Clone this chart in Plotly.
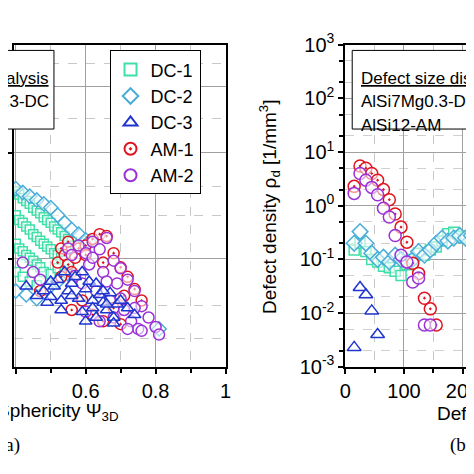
import plotly.graph_objects as go

# Left panel: sphericity vs. (arbitrary, unlabelled) y
dc1_x = [0.40,0.41,0.42,0.43,0.44,0.45,0.46,0.47,0.48,0.49,0.50,0.51,0.52,0.53,0.54,0.55,0.56,0.57,
         0.40,0.41,0.42,0.43,0.44,0.45,0.46,0.47,0.48,0.49,0.50,0.51,0.52,0.53,0.54,0.55,
         0.40,0.41,0.42,0.43,0.44,0.45,0.46,0.47,0.48,0.50,0.52,0.54,0.40,0.42,0.44,0.46]
dc1_y = [185,182,178,175,172,168,165,162,158,155,152,148,145,142,138,135,132,128,
         160,155,152,148,145,140,137,133,130,127,124,120,118,115,112,108,
         130,125,122,118,115,112,108,105,100,98,104,100,100,95,90,86]
dc2_x = [0.40,0.42,0.44,0.46,0.48,0.50,0.52,0.54,0.56,0.58,0.60,0.61,0.40,0.43,0.46,0.49,0.52,0.55,0.81]
dc2_y = [188,184,180,176,172,168,160,152,145,140,134,132,80,76,72,82,90,98,40]
dc3_x = [0.43,0.46,0.48,0.49,0.50,0.51,0.52,0.53,0.54,0.55,0.56,0.57,0.58,0.59,0.60,0.61,0.62,0.63,0.64,0.65,
         0.66,0.67,0.68,0.69,0.70,0.72,0.74,0.50,0.53,0.56,0.59,0.62,0.65,0.68,0.60,0.63,0.66]
dc3_y = [85,75,80,68,74,85,92,70,100,80,88,95,72,100,82,90,70,88,76,68,
         60,78,52,66,70,62,55,90,60,75,58,62,80,46,48,52,66]
am1_x = [0.47,0.52,0.53,0.54,0.55,0.56,0.57,0.58,0.60,0.62,0.64,0.66,0.68,0.70,0.72,0.74,0.76,
         0.53,0.56,0.59,0.62,0.65,0.68,0.71,0.55,0.60,0.65,0.70]
am1_y = [80,110,125,118,108,100,115,125,128,135,140,138,120,105,95,82,70,
         95,60,70,55,48,62,75,132,118,110,45]
am2_x = [0.42,0.45,0.47,0.55,0.56,0.58,0.60,0.62,0.64,0.66,0.68,0.70,0.72,0.74,0.76,0.78,0.80,0.81,
         0.57,0.59,0.61,0.63,0.65,0.67,0.69,0.71,0.73,0.75,0.60,0.64,0.68,0.72,0.76,0.62,0.66,0.70,0.74]
am2_y = [110,100,92,125,118,128,120,132,124,136,112,104,92,80,64,52,42,34,
         96,88,108,80,100,70,88,60,48,40,58,48,52,40,38,115,90,72,62]

# Right panel: defect density vs defect size
r_am1_x = [15,25,35,45,55,65,75,85,95,105,115,125,135,145,155]
r_am1_y = [2.3,5.5,5.0,4.0,3.0,2.0,1.3,0.7,0.4,0.21,0.085,0.055,0.019,0.012,0.006]
r_am2_x = [15,25,35,45,55,65,75,85,95,105,115,125,135,145]
r_am2_y = [1.7,4.0,3.0,2.2,1.6,0.9,0.62,0.28,0.12,0.09,0.038,0.045,0.006,0.006]
r_dc1_x = [15,25,35,45,55,65,75,85,95,105,115,125,135,145,155,165,175,185,195,205,215]
r_dc1_y = [0.15,0.2,0.14,0.1,0.09,0.075,0.07,0.06,0.05,0.08,0.1,0.13,0.12,0.15,0.17,0.22,0.3,0.32,0.27,0.25,0.22]
r_dc2_x = [15,25,35,45,55,65,75,85,95,105,115,125,135,145,155,165,175,185,195,205,215]
r_dc2_y = [0.2,0.33,0.2,0.13,0.1,0.11,0.09,0.12,0.1,0.09,0.1,0.14,0.12,0.15,0.2,0.25,0.22,0.25,0.28,0.25,0.28]
r_dc3_x = [15,25,35,45,55]
r_dc3_y = [0.0023,0.03,0.022,0.011,0.004]

C_DC1 = "#3fe0a8"; C_DC2 = "#4aaed8"; C_DC3 = "#1f35d0"; C_AM1 = "#e0141e"; C_AM2 = "#9b30d8"
FONT = "Liberation Sans"

def mk(sym, col, size):
    return dict(symbol=sym, size=size, color="rgba(255,255,255,0.55)", line=dict(color=col, width=1.5))

fig = go.Figure()
L = dict(xaxis="x", yaxis="y", mode="markers")
fig.add_trace(go.Scatter(x=dc1_x, y=dc1_y, name="DC-1", marker=mk("square", C_DC1, 9), **L))
fig.add_trace(go.Scatter(x=dc2_x, y=dc2_y, name="DC-2", marker=mk("diamond", C_DC2, 11), **L))
fig.add_trace(go.Scatter(x=am1_x, y=am1_y, name="AM-1", marker=mk("circle-dot", C_AM1, 11), showlegend=False, **L))
fig.add_trace(go.Scatter(x=am2_x, y=am2_y, name="AM-2", marker=mk("circle", C_AM2, 11), showlegend=False, **L))
fig.add_trace(go.Scatter(x=dc3_x, y=dc3_y, name="DC-3", marker=mk("triangle-up", C_DC3, 11), **L))
fig.add_trace(go.Scatter(x=[None], y=[None], name="AM-1", marker=mk("circle-dot", C_AM1, 11), **L))
fig.add_trace(go.Scatter(x=[None], y=[None], name="AM-2", marker=mk("circle", C_AM2, 11), **L))

R = dict(xaxis="x2", yaxis="y2", mode="markers", showlegend=False)
fig.add_trace(go.Scatter(x=r_dc1_x, y=r_dc1_y, marker=mk("square", C_DC1, 10), **R))
fig.add_trace(go.Scatter(x=r_dc2_x, y=r_dc2_y, marker=mk("diamond", C_DC2, 12), **R))
fig.add_trace(go.Scatter(x=r_dc3_x, y=r_dc3_y, marker=mk("triangle-up", C_DC3, 12), **R))
fig.add_trace(go.Scatter(x=r_am1_x, y=r_am1_y, marker=mk("circle-dot", C_AM1, 12), **R))
fig.add_trace(go.Scatter(x=r_am2_x, y=r_am2_y, marker=mk("circle", C_AM2, 12), **R))

ydom = [110/474, 450/474]
ax = dict(showline=True, linecolor="black", linewidth=2, mirror=True, ticks="outside",
          tickcolor="black", tickwidth=2, gridcolor="#a0a0a0", gridwidth=1, zeroline=False,
          tickfont=dict(size=20, color="black", family=FONT))
fig.update_layout(
    width=474, height=474, margin=dict(l=0, r=0, t=0, b=0), plot_bgcolor="white", paper_bgcolor="white",
    font=dict(family=FONT, color="black"),
    xaxis=dict(ax, domain=[0, 217/474], range=[0.395, 1.0], tickvals=[0.4, 0.6, 0.8, 1.0],
               ticktext=[".4", "0.6", "0.8", "1"],
               minor=dict(dtick=0.1, showgrid=True, griddash="dash", gridcolor="#c8c8c8", ticks="outside", ticklen=4, tickcolor="black")),
    yaxis=dict(ax, domain=ydom, range=[0, 340], tickvals=[114, 226, 296], showticklabels=False,
               minor=dict(tickvals=[30, 65, 160, 190, 262, 320], showgrid=True, griddash="dash", gridcolor="#c8c8c8")),
    xaxis2=dict(ax, domain=[340/474, 1], range=[0, 223], anchor="y2", tickvals=[0, 100, 200],
                minor=dict(dtick=50, showgrid=True, griddash="dash", gridcolor="#c8c8c8", ticks="outside", ticklen=4, tickcolor="black")),
    yaxis2=dict(ax, domain=ydom, type="log", range=[-3, 3], anchor="x2", tickvals=[1e-3, 1e-2, 1e-1, 1, 10, 100, 1000],
                ticktext=["10<sup>-3</sup>", "10<sup>-2</sup>", "10<sup>-1</sup>", "10<sup>0</sup>", "10<sup>1</sup>", "10<sup>2</sup>", "10<sup>3</sup>"],
                minor=dict(dtick="D2", showgrid=True, griddash="dash", gridcolor="#d0d0d0", ticks="outside", ticklen=4, tickcolor="black")),
    legend=dict(x=98/474, y=444/474, xanchor="left", yanchor="top", bgcolor="white", bordercolor="black",
                borderwidth=1, font=dict(size=18, family=FONT), itemsizing="constant", tracegroupgap=0),
)
# Text boxes
fig.add_shape(type="rect", xref="paper", yref="paper", x0=-0.05, x1=41/474, y0=1-113/474, y1=1-30/474,
              line=dict(color="black", width=1), fillcolor="white", layer="above")
fig.add_annotation(xref="paper", yref="paper", x=38/474, y=1-48/474, xanchor="right", text="<u>Porosity analysis</u>",
                   showarrow=False, font=dict(size=17))
fig.add_annotation(xref="paper", yref="paper", x=38/474, y=1-72/474, xanchor="right", text="AlSi7Mg0.3-DC",
                   showarrow=False, font=dict(size=17))
fig.add_shape(type="rect", xref="paper", yref="paper", x0=347/474, x1=1.2, y0=1-113/474, y1=1-30/474,
              line=dict(color="black", width=1), fillcolor="white", layer="above")
for i, t in enumerate(["<u>Defect size distribution</u>", "AlSi7Mg0.3-DC", "AlSi12-AM"]):
    fig.add_annotation(xref="paper", yref="paper", x=354/474, y=1-(47+25*i)/474, xanchor="left", text=t,
                       showarrow=False, font=dict(size=17))
# Axis titles / panel labels
fig.add_annotation(xref="paper", yref="paper", x=110/474, y=1-427/474, xanchor="right", text="Sphericity Ψ<sub>3D</sub>",
                   showarrow=False, font=dict(size=19))
fig.add_annotation(xref="paper", yref="paper", x=8/474, y=1-460/474, xanchor="right", text="(a)",
                   showarrow=False, font=dict(size=19, family="Liberation Serif"))
fig.add_annotation(xref="paper", yref="paper", x=262/474, y=1-195/474, textangle=-90,
                   text="Defect density ρ<sub>d</sub> [1/mm<sup>3</sup>]", showarrow=False, font=dict(size=19))
fig.add_annotation(xref="paper", yref="paper", x=432/474, y=1-427/474, xanchor="left", text="Defect size √area [µm]",
                   showarrow=False, font=dict(size=19))
fig.add_annotation(xref="paper", yref="paper", x=445/474, y=1-460/474, xanchor="left", text="(b)",
                   showarrow=False, font=dict(size=19, family="Liberation Serif"))
fig.write_html("out.html")
